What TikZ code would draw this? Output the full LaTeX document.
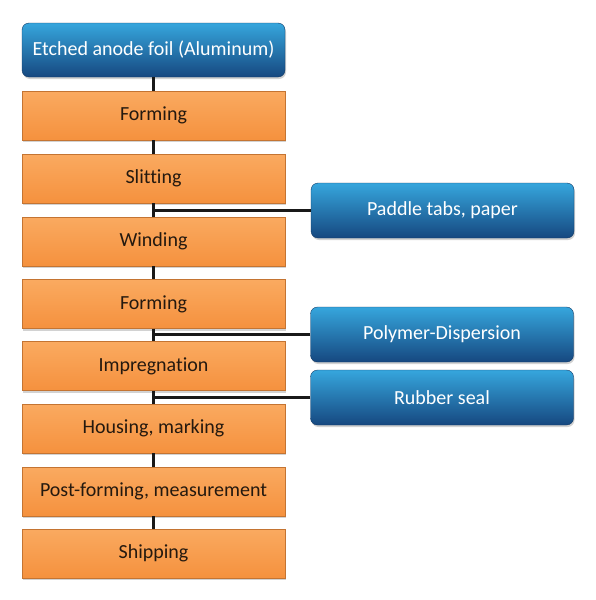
\documentclass[tikz,border=0pt]{standalone}
\usepackage{fontspec}
\setmainfont[Ligatures={NoCommon}]{Carlito}
\usetikzlibrary{shadows}
\definecolor{orTop}{HTML}{FAAA60}
\definecolor{orBot}{HTML}{F5913E}
\definecolor{blTop}{HTML}{36A6DD}
\definecolor{blBot}{HTML}{164880}
\definecolor{txtDark}{HTML}{24190F}
\tikzset{
  stepbox/.style={draw=orBot!80!black, line width=0.4pt, top color=orTop, bottom color=orBot,
    minimum width=263pt, minimum height=49pt, font=\fontsize{20}{24}\selectfont, text=txtDark,
    drop shadow={shadow xshift=1pt, shadow yshift=-2pt, opacity=0.35}},
  matbox/.style={draw=blBot!80!black, line width=0.4pt, top color=blTop, bottom color=blBot,
    rounded corners=7pt, minimum width=263pt, minimum height=55pt, font=\fontsize{20}{24}\selectfont, text=white,
    drop shadow={shadow xshift=1pt, shadow yshift=-2pt, opacity=0.35}},
  link/.style={line width=2.6pt, draw=black!90}
}
\begin{document}
\begin{tikzpicture}[x=1pt,y=-1pt]
\useasboundingbox[fill=white] (0,0) rectangle (595,600);
\node[matbox, minimum height=54pt] (foil) at (153.5,50) {Etched anode foil (Aluminum)};
\node[stepbox] (form1) at (153.5,115.5) {Forming};
\node[stepbox] (slit) at (153.5,178.5) {Slitting};
\node[stepbox] (wind) at (153.5,241.5) {Winding};
\node[stepbox] (form2) at (153.5,304) {Forming};
\node[stepbox] (impr) at (153.5,366) {Impregnation};
\node[stepbox] (hous) at (153.5,428.5) {Housing, marking};
\node[stepbox] (post) at (153.5,491.5) {Post-forming, measurement};
\node[stepbox] (ship) at (153.5,553.5) {Shipping};
\node[matbox] (paddle) at (442.5,210.5) {Paddle tabs, paper};
\node[matbox] (poly) at (442,334.5) {Polymer-Dispersion};
\node[matbox] (rubber) at (442,397.5) {Rubber seal};
\draw[link] (foil.south) -- (form1.north);
\draw[link] (form1.south) -- (slit.north);
\draw[link] (slit.south) -- (wind.north);
\draw[link] (wind.south) -- (form2.north);
\draw[link] (form2.south) -- (impr.north);
\draw[link] (impr.south) -- (hous.north);
\draw[link] (hous.south) -- (post.north);
\draw[link] (post.south) -- (ship.north);
\draw[link] (paddle.west) -- (paddle.west -| slit.south);
\draw[link] (poly.west) -- (poly.west -| form2.south);
\draw[link] (rubber.west) -- (rubber.west -| impr.south);
\end{tikzpicture}
\end{document}
